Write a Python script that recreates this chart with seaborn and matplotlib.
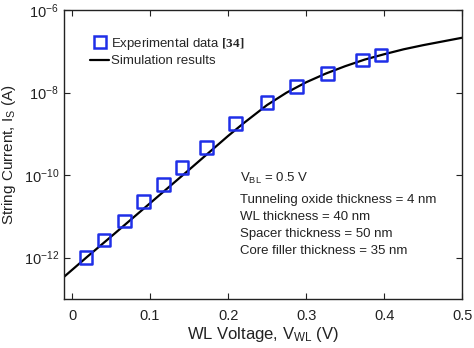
import numpy as np
import pandas as pd
import matplotlib
matplotlib.use("Agg")
import matplotlib.pyplot as plt
import seaborn as sns
from matplotlib.lines import Line2D
from matplotlib.ticker import FixedLocator, NullLocator

# Experimental data
exp_v = [0.018, 0.041, 0.067, 0.092, 0.117, 0.141, 0.172, 0.210, 0.250, 0.288, 0.327, 0.372, 0.396]
exp_log_i = [-12.00, -11.57, -11.11, -10.63, -10.22, -9.81, -9.33, -8.75, -8.24, -7.86, -7.54, -7.21, -7.09]

# Simulation curve
sim_v = [-0.01, 0.02, 0.05, 0.10, 0.15, 0.20, 0.22, 0.25, 0.275, 0.30, 0.325, 0.35, 0.375,
         0.40, 0.425, 0.45, 0.475, 0.50]
sim_log_i = [-12.46, -11.97, -11.49, -10.68, -9.87, -9.05, -8.74, -8.30, -8.00, -7.75, -7.54,
             -7.36, -7.20, -7.07, -6.95, -6.85, -6.76, -6.67]

y_ticks = [1e-12, 1e-10, 1e-8, 1e-6]
x_ticks = [0, 0.1, 0.2, 0.3, 0.4, 0.5]
x_tick_labels = ["0", "0.1", "0.2", "0.3", "0.4", "0.5"]

exp_df = pd.DataFrame({"v": exp_v, "i": [10.0 ** e for e in exp_log_i]})
sim_df = pd.DataFrame({"v": sim_v, "i": [10.0 ** e for e in sim_log_i]})

sns.set_style("ticks")
plt.rcParams["font.family"] = ["Liberation Sans", "DejaVu Sans"]
plt.rcParams["mathtext.fontset"] = "custom"
plt.rcParams["mathtext.rm"] = "Liberation Sans"
plt.rcParams["mathtext.it"] = "Liberation Sans:italic"
plt.rcParams["mathtext.bf"] = "Liberation Serif:bold"

fig = plt.figure(figsize=(4.74, 3.48), dpi=100)
ax = fig.add_axes([0.135, 0.141, 0.84, 0.83])

blue = "#1f2fe8"
sns.lineplot(data=sim_df, x="v", y="i", ax=ax, color="black", linewidth=1.6, zorder=2)
sns.scatterplot(data=exp_df, x="v", y="i", ax=ax, marker="s", s=85,
                facecolor="none", edgecolor=blue, linewidth=1.8, zorder=3)

ax.set_yscale("log")
ax.set_xlim(-0.0103, 0.5)
ax.set_ylim(1e-13, 1e-6)
ax.yaxis.set_major_locator(FixedLocator(y_ticks))
ax.yaxis.set_minor_locator(NullLocator())
ax.set_xticks(x_ticks)
ax.set_xticklabels(x_tick_labels)

ax.tick_params(direction="in", top=True, right=True, labelsize=10.5, length=4,
               width=0.8, colors="#222222", labelcolor="#222222")
ax.tick_params(axis="x", pad=7)
for s in ax.spines.values():
    s.set_linewidth(1.0)
    s.set_color("#222222")

ax.set_xlabel(r"WL Voltage, V$_\mathrm{WL}$ (V)", fontsize=12, color="#222222", labelpad=2)
ax.set_ylabel(r"String Current, I$_\mathrm{S}$ (A)", fontsize=11, color="#222222", labelpad=4)

handles = [
    Line2D([], [], marker="s", linestyle="none", markersize=9, markerfacecolor="none",
           markeredgecolor=blue, markeredgewidth=1.8),
    Line2D([], [], color="black", linewidth=1.6),
]
ax.legend(handles, [r"Experimental data $\mathbf{[34]}$", "Simulation results"],
          loc="upper left", bbox_to_anchor=(0.053, 0.93), frameon=False,
          fontsize=9.5, handlelength=1.4, handletextpad=0.2, borderaxespad=0,
          labelspacing=0.25)

lines = [r"V$_\mathrm{BL}$ = 0.5 V",
         "Tunneling oxide thickness = 4 nm",
         "WL thickness = 40 nm",
         "Spacer thickness = 50 nm",
         "Core filler thickness = 35 nm"]
ys = [178, 200, 217, 234, 251]
for t, yp in zip(lines, ys):
    fig.text(240 / 474, 1 - yp / 348, t, fontsize=9.5, color="#222222", va="center", ha="left")

fig.savefig("out.png", dpi=100)
